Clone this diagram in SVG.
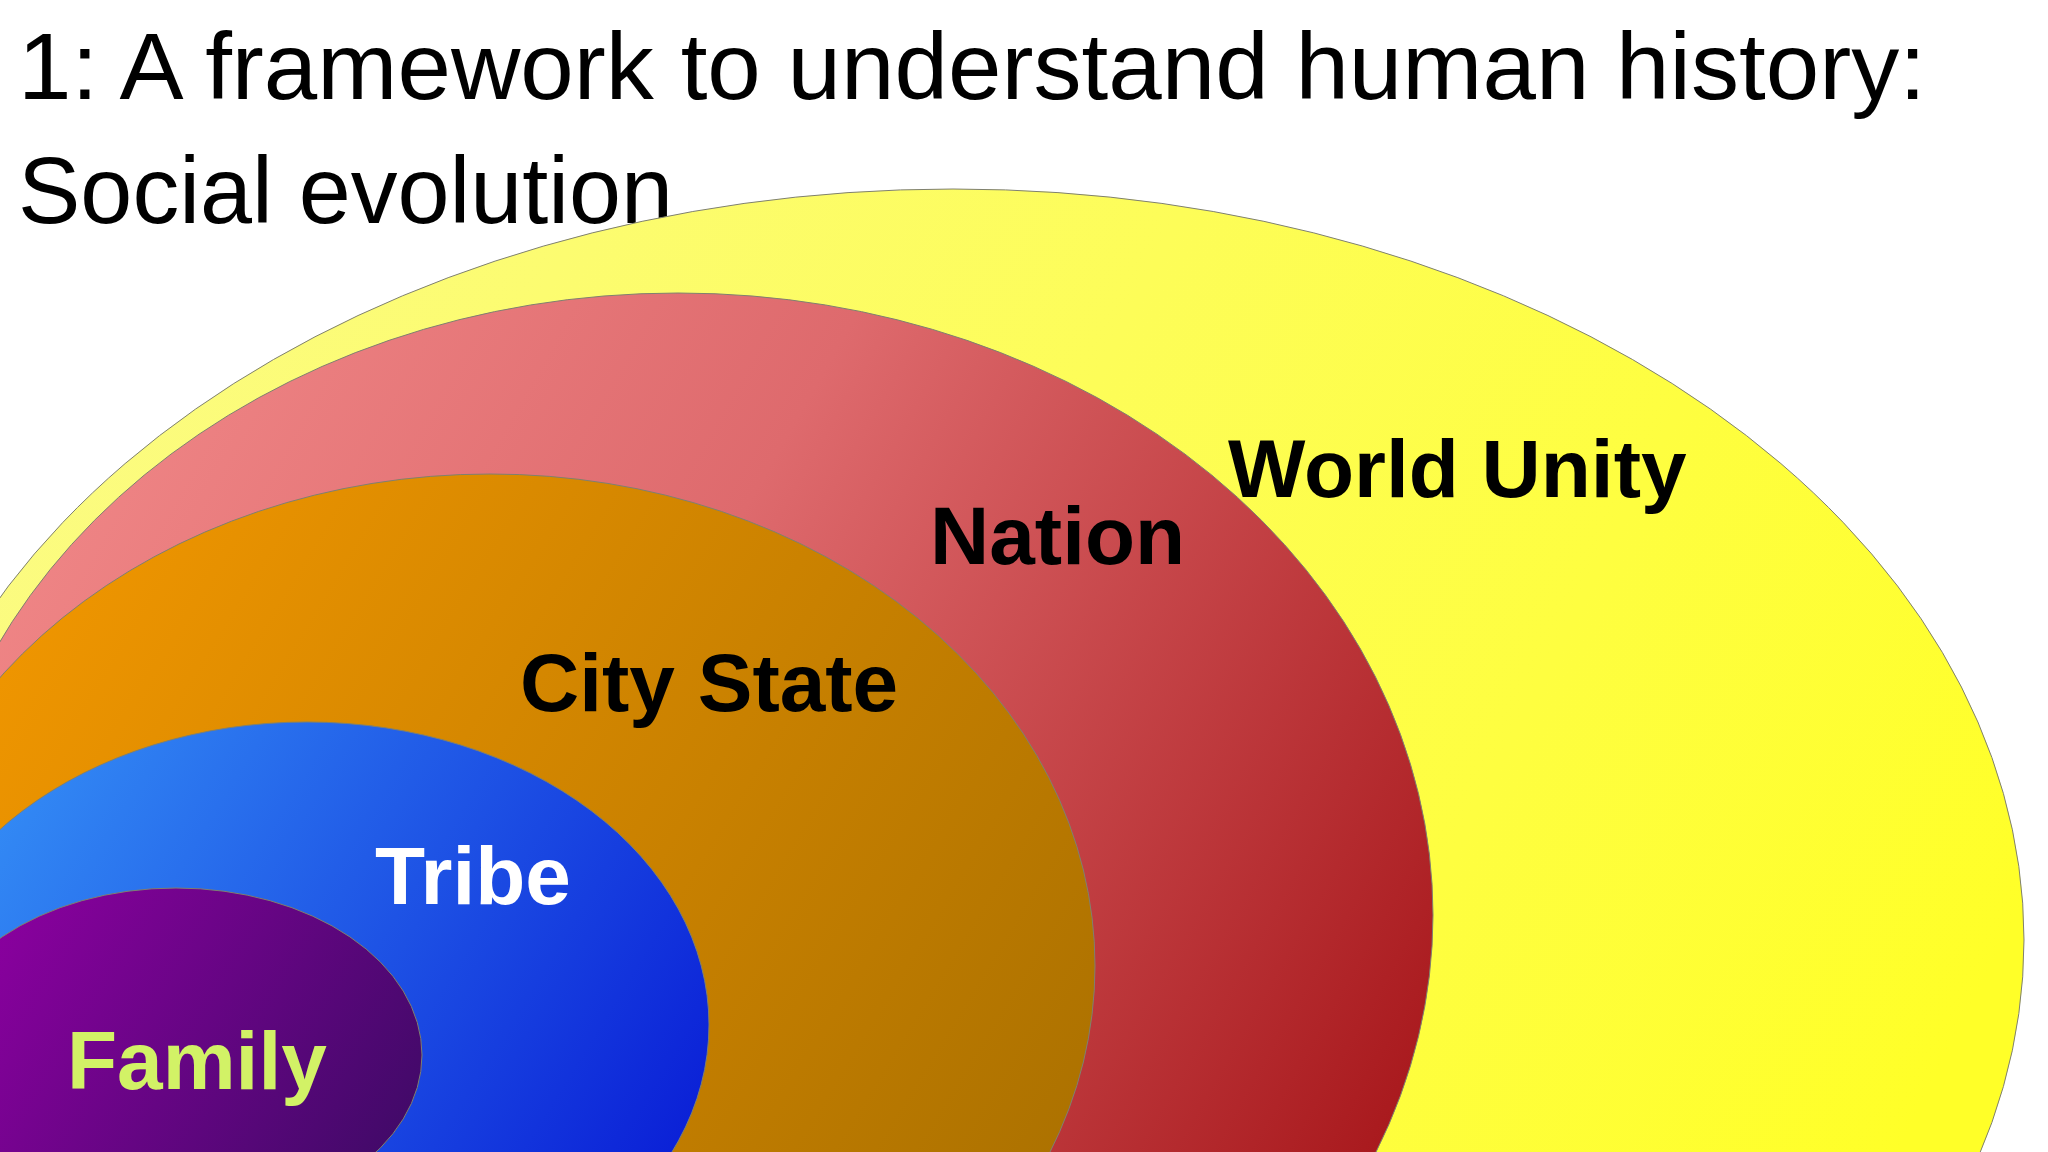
<svg xmlns="http://www.w3.org/2000/svg" width="2048" height="1152" viewBox="0 0 2048 1152">
<style>
.title{font-family:"Liberation Sans",Arial,sans-serif;font-size:95px;fill:#000}
.lbl{font-family:"Liberation Sans",Arial,sans-serif;font-weight:bold;font-size:82px}
.ring{stroke:#7f8070;stroke-width:1}
</style>
<defs>
<linearGradient id="gY" gradientUnits="userSpaceOnUse" x1="0" y1="190" x2="1900" y2="1152"><stop offset="0" stop-color="#fbfb88"/><stop offset="1" stop-color="#ffff28"/></linearGradient>
<linearGradient id="gR" gradientUnits="userSpaceOnUse" x1="0" y1="350" x2="1400" y2="1150"><stop offset="0" stop-color="#f28a8a"/><stop offset="0.45" stop-color="#de6a6d"/><stop offset="1" stop-color="#a8181c"/></linearGradient>
<linearGradient id="gO" gradientUnits="userSpaceOnUse" x1="0" y1="480" x2="1100" y2="1152"><stop offset="0" stop-color="#f49800"/><stop offset="1" stop-color="#ab7100"/></linearGradient>
<linearGradient id="gB" gradientUnits="userSpaceOnUse" x1="0" y1="720" x2="700" y2="1152"><stop offset="0" stop-color="#3590f6"/><stop offset="1" stop-color="#0a1ed6"/></linearGradient>
<linearGradient id="gP" gradientUnits="userSpaceOnUse" x1="0" y1="890" x2="420" y2="1152"><stop offset="0" stop-color="#8c00a0"/><stop offset="1" stop-color="#3e0a66"/></linearGradient>
</defs>
<rect width="2048" height="1152" fill="#fff"/>
<g id="title">
<text class="title" x="18" y="99" textLength="1908" lengthAdjust="spacingAndGlyphs">1: A framework to understand human history:</text>
<text class="title" x="18" y="223" textLength="655" lengthAdjust="spacingAndGlyphs">Social evolution</text>
</g>
<g id="world-unity">
<ellipse class="ring" cx="953" cy="940" rx="1071" ry="751" fill="url(#gY)"/>
<text class="lbl" x="1228" y="497" fill="#000">World Unity</text>
</g>
<g id="nation">
<ellipse class="ring" cx="678" cy="915" rx="755" ry="622" fill="url(#gR)"/>
<text class="lbl" x="930" y="564" fill="#000">Nation</text>
</g>
<g id="city-state">
<ellipse class="ring" cx="490" cy="966" rx="605" ry="492" fill="url(#gO)"/>
<text class="lbl" x="520" y="711" fill="#000">City State</text>
</g>
<g id="tribe">
<ellipse class="ring" cx="307" cy="1025" rx="402" ry="303" fill="url(#gB)"/>
<text class="lbl" x="375" y="904" fill="#fff">Tribe</text>
</g>
<g id="family">
<ellipse class="ring" cx="176" cy="1055" rx="246" ry="167" fill="url(#gP)"/>
<text class="lbl" x="67" y="1089" fill="#d2f266">Family</text>
</g>
<g id="connectors"/>
</svg>
